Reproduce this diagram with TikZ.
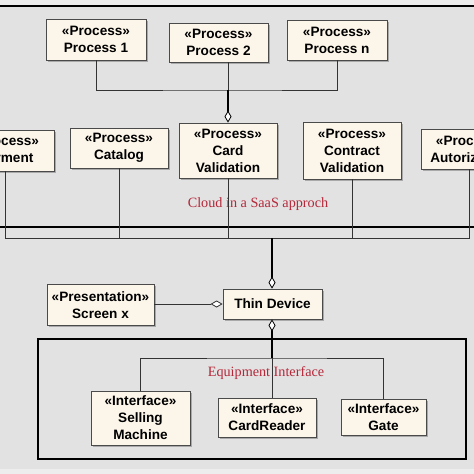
\documentclass[tikz,border=0pt]{standalone}
\usepackage{fontspec}
\setmainfont{Liberation Sans}
\newfontfamily\redserif{Liberation Serif}
\usetikzlibrary{arrows.meta,shadows}
\definecolor{bg}{HTML}{E2E2E2}
\definecolor{bgtop}{HTML}{EDEDED}
\definecolor{boxfill}{HTML}{FCF5E9}
\definecolor{boxline}{HTML}{4A4A4A}
\definecolor{connc}{HTML}{333333}
\definecolor{redtext}{HTML}{B5283A}
\tikzset{
  agg/.tip={Diamond[length=12pt,width=7pt,fill=white,line width=0.8pt]},
  box/.style={draw=boxline, line width=0.8pt, fill=boxfill, align=center, inner sep=0pt,
    font=\bfseries\fontsize{13.6}{17}\selectfont,
    drop shadow={shadow xshift=1.5pt,shadow yshift=-1.5pt,fill=black,opacity=0.25}},
  conn/.style={draw=connc, line width=0.9pt},
  heavy/.style={draw=black, line width=1.6pt},
  redlabel/.style={text=redtext, font=\redserif\fontsize{14.2}{16}\selectfont, inner sep=0pt}
}
\begin{document}
\begin{tikzpicture}[x=1pt,y=-1pt]
\useasboundingbox (0,0) rectangle (474,474);
\clip (0,0) rectangle (474,474);
\fill[bg] (0,0) rectangle (474,474);
\fill[bgtop] (0,0) rectangle (474,6);
\fill[bgtop] (0,469) rectangle (474,474);
% region boundaries
\draw[heavy] (0,6) -- (474,6);
\draw[heavy] (0,227) -- (474,227);
\draw[heavy] (38,339) rectangle (466,459);

% top processes
\node[box, minimum width=100pt, minimum height=41pt] (p1) at (96,39.5) {«Process»\\Process 1};
\node[box, minimum width=99pt, minimum height=39pt] (p2) at (218.5,42.5) {«Process»\\Process 2};
\node[box, minimum width=100pt, minimum height=40pt] (pn) at (337,40) {«Process»\\Process n};

% second row
\node[box, minimum width=98pt, minimum height=41pt] (pay) at (5,150.5) {«Process»\\Payment};
\node[box, minimum width=98pt, minimum height=40pt] (cat) at (119,148) {«Process»\\Catalog};
\node[box, minimum width=98pt, minimum height=55pt] (cv) at (228,150.5) {«Process»\\Card\\Validation};
\node[box, minimum width=98pt, minimum height=57pt] (ct) at (352,150.5) {«Process»\\Contract\\Validation};
\node[box, minimum width=98pt, minimum height=40pt] (aut) at (470,149) {«Process»\\Autorization};

\node[redlabel] (cloud) at (258,204) {Cloud in a SaaS approch};

% thin device
\node[box, minimum width=99pt, minimum height=30pt] (td) at (272.5,304) {Thin Device};
\node[box, minimum width=107pt, minimum height=41pt] (scr) at (100.5,305) {«Presentation»\\Screen x};

% equipment
\node[redlabel] (eq) at (266,373) {Equipment Interface};
\node[box, minimum width=99pt, minimum height=54pt] (sell) at (140.5,418) {«Interface»\\Selling\\Machine};
\node[box, minimum width=98pt, minimum height=39pt] (cr) at (267,417.5) {«Interface»\\CardReader};
\node[box, minimum width=85pt, minimum height=36pt] (gate) at (383.5,417) {«Interface»\\Gate};

% connectors top
\coordinate (j1) at (228,90);
\draw[conn] (p1.south) |- (j1) -| (pn.south);
\draw[conn] (j1 |- p2.south) -- (j1);
\draw[heavy,-agg] (j1) -- (cv.north);

% bus row 2
\coordinate (b1) at (5,238);
\coordinate (b2) at (469,238);
\draw[conn] (pay.south) |- (b2) -- (b2 |- aut.south);
\draw[conn] (cat.south) -- (cat.south |- b1);
\draw[conn] (cv.south) -- (cv.south |- b1);
\draw[conn] (ct.south) -- (ct.south |- b1);
\coordinate (b3) at (272,238);
\draw[heavy,-agg] (b3) -- (b3 |- td.north);

% screen to thin device
\draw[conn,agg-] (td.west) -- (td.west -| scr.east);

% thin device to equipment
\coordinate (e1) at (272,358);
\draw[heavy,agg-] (e1 |- td.south) -- (e1);
\draw[conn] (sell.north) |- (e1) -| (gate.north);
\draw[conn] (e1) -- (e1 |- cr.north);
\end{tikzpicture}
\end{document}
